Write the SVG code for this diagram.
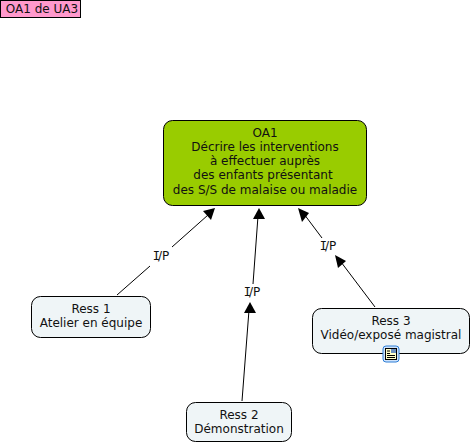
<svg xmlns="http://www.w3.org/2000/svg" width="473" height="443" viewBox="0 0 473 443">
<style>
text{font-family:"DejaVu Sans",Verdana,sans-serif;font-size:12px;fill:#111;text-anchor:middle}
.m{font-family:"DejaVu Sans Mono",monospace;letter-spacing:-2px}
.res{fill:#eff5f7;stroke:#000;stroke-width:1}
.ln{stroke:#000;stroke-width:1;fill:none}
.hd{fill:#000;stroke:none}
</style>
<rect width="473" height="443" fill="#fff"/>
<g id="connectors">
<line class="ln" x1="117" y1="295" x2="150" y2="266"/>
<line class="ln" x1="172" y1="247" x2="208" y2="215"/>
<polygon class="hd" points="215,208 211,220 203,211"/>
<line class="ln" x1="242" y1="401" x2="249" y2="310"/>
<polygon class="hd" points="250,302 256,313 244,313"/>
<line class="ln" x1="253" y1="284" x2="258" y2="216"/>
<polygon class="hd" points="259,208 265,219 253,219"/>
<line class="ln" x1="375" y1="307" x2="341" y2="262"/>
<polygon class="hd" points="335,255 346,261 338,268"/>
<line class="ln" x1="322" y1="238" x2="304" y2="214"/>
<polygon class="hd" points="298,208 309,213 302,222"/>
</g>
<g id="label1"><text x="161" y="260"><tspan class="m">I</tspan>/P</text></g>
<g id="label2"><text x="252" y="296"><tspan class="m">I</tspan>/P</text></g>
<g id="label3"><text x="328" y="250"><tspan class="m">I</tspan>/P</text></g>
<g id="title">
<rect x="0.500" y="0.500" width="80" height="17" fill="#ff99cc" stroke="#000"/>
<text x="42" y="13">OA1 de UA3</text>
</g>
<g id="oa1">
<rect x="163.500" y="120.500" width="203" height="85" rx="9" fill="#99cc00" stroke="#000"/>
<text x="265" y="137">OA1</text>
<text x="265" y="151">Décrire les interventions</text>
<text x="265" y="165">à effectuer auprès</text>
<text x="263" y="179">des enfants présentant</text>
<text x="265" y="194">des S/S de malaise ou maladie</text>
</g>
<g id="ress1">
<rect class="res" x="31.500" y="296.500" width="119" height="41" rx="9"/>
<text x="91" y="313">Ress 1</text>
<text x="91" y="327">Atelier en équipe</text>
</g>
<g id="ress2">
<rect class="res" x="186.500" y="402.500" width="105" height="39" rx="9"/>
<text x="239" y="419">Ress 2</text>
<text x="239" y="433">Démonstration</text>
</g>
<g id="ress3">
<rect class="res" x="312.500" y="308.500" width="157" height="45" rx="9"/>
<text x="391" y="325">Ress 3</text>
<text x="391" y="339">Vidéo/exposé magistral</text>
<rect x="383" y="346" width="16" height="16" rx="3" fill="#cfe3fb" stroke="#2f7fd6"/>
<rect x="385.500" y="348.500" width="11" height="11" fill="#ffffc8" stroke="#000"/>
<rect x="391" y="349" width="5" height="4" fill="#6a8fc0"/>
<path d="M387 351h3M387 353.500h3M387 355.500h8M387 357.500h8" stroke="#000" stroke-width="1" fill="none"/>
</g>
</svg>
